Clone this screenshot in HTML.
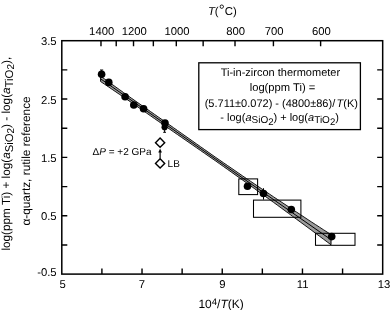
<!DOCTYPE html>
<html lang="en"><head><meta charset="utf-8"><title>Ti-in-zircon thermometer</title>
<style>html,body{margin:0;padding:0;background:#fff;}svg{display:block;}text{font-family:"Liberation Sans", Arial, Helvetica, sans-serif;fill:#000;text-rendering:geometricPrecision;}</style></head><body>
<svg width="392" height="310" viewBox="0 0 392 310">
<rect x="0" y="0" width="392" height="310" fill="#fff"/>
<polygon points="100.6,76.13 104.44,78.88 108.28,81.64 112.12,84.39 115.96,87.14 119.8,89.89 123.64,92.64 127.48,95.39 131.32,98.12 135.16,100.81 139,103.5 142.84,106.19 146.68,108.87 150.52,111.56 154.36,114.25 158.2,116.93 162.04,119.62 165.88,122.31 169.72,125.01 173.56,127.72 177.4,130.42 181.24,133.13 185.08,135.83 188.92,138.54 192.76,141.24 196.6,143.95 200.44,146.65 204.28,149.35 208.12,152.06 211.96,154.76 215.8,157.46 219.64,160.1 223.48,162.74 227.32,165.38 231.16,168.03 235,170.67 238.84,173.31 242.68,175.96 246.52,178.58 250.36,181.17 254.2,183.76 258.04,186.35 261.88,188.95 265.72,191.54 269.56,194.13 273.4,196.72 277.24,199.28 281.08,201.83 284.92,204.37 288.76,206.91 292.6,209.46 296.44,212 300.28,214.54 304.12,217.08 307.96,219.63 311.8,222.16 315.64,224.65 319.48,227.14 323.32,229.63 327.16,232.12 331,234.61 331,244.81 327.16,241.93 323.32,239.06 319.48,236.18 315.64,233.31 311.8,230.44 307.96,227.61 304.12,224.79 300.28,221.97 296.44,219.15 292.6,216.33 288.76,213.51 284.92,210.69 281.08,207.87 277.24,205.05 273.4,202.25 269.56,199.48 265.72,196.7 261.88,193.93 258.04,191.16 254.2,188.39 250.36,185.62 246.52,182.85 242.68,180.11 238.84,177.39 235,174.67 231.16,171.95 227.32,169.23 223.48,166.51 219.64,163.79 215.8,161.07 211.96,158.4 208.12,155.74 204.28,153.08 200.44,150.43 196.6,147.77 192.76,145.11 188.92,142.45 185.08,139.79 181.24,137.13 177.4,134.47 173.56,131.82 169.72,129.16 165.88,126.5 162.04,123.83 158.2,121.15 154.36,118.48 150.52,115.8 146.68,113.12 142.84,110.45 139,107.77 135.16,105.1 131.32,102.42 127.48,99.79 123.64,97.18 119.8,94.57 115.96,91.95 112.12,89.34 108.28,86.73 104.44,84.12 100.6,81.51" fill="#9c9c9c" stroke="none"/>
<polyline points="100.6,76.13 104.44,78.88 108.28,81.64 112.12,84.39 115.96,87.14 119.8,89.89 123.64,92.64 127.48,95.39 131.32,98.12 135.16,100.81 139,103.5 142.84,106.19 146.68,108.87 150.52,111.56 154.36,114.25 158.2,116.93 162.04,119.62 165.88,122.31 169.72,125.01 173.56,127.72 177.4,130.42 181.24,133.13 185.08,135.83 188.92,138.54 192.76,141.24 196.6,143.95 200.44,146.65 204.28,149.35 208.12,152.06 211.96,154.76 215.8,157.46 219.64,160.1 223.48,162.74 227.32,165.38 231.16,168.03 235,170.67 238.84,173.31 242.68,175.96 246.52,178.58 250.36,181.17 254.2,183.76 258.04,186.35 261.88,188.95 265.72,191.54 269.56,194.13 273.4,196.72 277.24,199.28 281.08,201.83 284.92,204.37 288.76,206.91 292.6,209.46 296.44,212 300.28,214.54 304.12,217.08 307.96,219.63 311.8,222.16 315.64,224.65 319.48,227.14 323.32,229.63 327.16,232.12 331,234.61" fill="none" stroke="#000" stroke-width="0.9"/>
<polyline points="100.6,81.51 104.44,84.12 108.28,86.73 112.12,89.34 115.96,91.95 119.8,94.57 123.64,97.18 127.48,99.79 131.32,102.42 135.16,105.1 139,107.77 142.84,110.45 146.68,113.12 150.52,115.8 154.36,118.48 158.2,121.15 162.04,123.83 165.88,126.5 169.72,129.16 173.56,131.82 177.4,134.47 181.24,137.13 185.08,139.79 188.92,142.45 192.76,145.11 196.6,147.77 200.44,150.43 204.28,153.08 208.12,155.74 211.96,158.4 215.8,161.07 219.64,163.79 223.48,166.51 227.32,169.23 231.16,171.95 235,174.67 238.84,177.39 242.68,180.11 246.52,182.85 250.36,185.62 254.2,188.39 258.04,191.16 261.88,193.93 265.72,196.7 269.56,199.48 273.4,202.25 277.24,205.05 281.08,207.87 284.92,210.69 288.76,213.51 292.6,216.33 296.44,219.15 300.28,221.97 304.12,224.79 307.96,227.61 311.8,230.44 315.64,233.31 319.48,236.18 323.32,239.06 327.16,241.93 331,244.81" fill="none" stroke="#000" stroke-width="0.9"/>
<line x1="100.6" y1="78.82" x2="331" y2="239.71" stroke="#000" stroke-width="1"/>
<line x1="100.6" y1="76.13" x2="100.6" y2="81.51" stroke="#000" stroke-width="1"/>
<line x1="331" y1="234.61" x2="331" y2="244.81" stroke="#000" stroke-width="1"/>
<rect x="238.8" y="178.9" width="18.8" height="15.7" fill="none" stroke="#000" stroke-width="1.05"/>
<rect x="253.5" y="200.1" width="47.4" height="17.2" fill="none" stroke="#000" stroke-width="1.05"/>
<rect x="315.5" y="233.3" width="39.5" height="12" fill="none" stroke="#000" stroke-width="1.05"/>
<path d="M101.6 70 V78 M100 70 H103.2 M263.5 188.2 V199.6 M164.6 122 V132.3 M163.2 132.3 H166" stroke="#000" stroke-width="1" fill="none"/>
<circle cx="101.6" cy="74.2" r="3.8" fill="#000"/>
<circle cx="108.8" cy="82.4" r="3.8" fill="#000"/>
<circle cx="125.1" cy="96.7" r="3.8" fill="#000"/>
<circle cx="133.8" cy="105" r="3.8" fill="#000"/>
<circle cx="143.6" cy="108.7" r="3.8" fill="#000"/>
<circle cx="165" cy="123" r="3.8" fill="#000"/>
<circle cx="164.6" cy="127.2" r="3.1" fill="#000"/>
<circle cx="247.5" cy="186.3" r="3.8" fill="#000"/>
<circle cx="263.5" cy="193.5" r="3.8" fill="#000"/>
<circle cx="291.3" cy="209.5" r="3.8" fill="#000"/>
<circle cx="331.7" cy="236.6" r="3.8" fill="#000"/>
<polygon points="160.1,138.1 164.7,142.7 160.1,147.3 155.5,142.7" fill="#fff" stroke="#000" stroke-width="1.4"/>
<polygon points="160.1,158.8 164.7,163.4 160.1,168 155.5,163.4" fill="#fff" stroke="#000" stroke-width="1.4"/>
<path d="M160.1 158.5 V151" stroke="#000" stroke-width="1.2" fill="none"/>
<polygon points="160.1,148.6 158.3,152.6 161.9,152.6" fill="#000"/>
<rect x="61.8" y="40.7" width="320.88" height="233.4" fill="none" stroke="#000" stroke-width="1.5"/>
<path d="M101.91 274.1 v-5.5 M142.02 274.1 v-5.5 M182.13 274.1 v-5.5 M222.24 274.1 v-5.5 M262.35 274.1 v-5.5 M302.46 274.1 v-5.5 M342.57 274.1 v-5.5 M100.98 40.7 v5.5 M116.22 40.7 v5.5 M133.52 40.7 v5.5 M153.35 40.7 v5.5 M176.3 40.7 v5.5 M203.15 40.7 v5.5 M235.01 40.7 v5.5 M273.42 40.7 v5.5 M320.62 40.7 v5.5 M61.8 244.93 h5.5 M382.68 244.93 h-5.5 M61.8 215.75 h5.5 M382.68 215.75 h-5.5 M61.8 186.58 h5.5 M382.68 186.58 h-5.5 M61.8 157.4 h5.5 M382.68 157.4 h-5.5 M61.8 128.23 h5.5 M382.68 128.23 h-5.5 M61.8 99.05 h5.5 M382.68 99.05 h-5.5 M61.8 69.88 h5.5 M382.68 69.88 h-5.5" stroke="#000" stroke-width="1.4" fill="none"/>
<text x="56.6" y="45.3" font-size="11.3" text-anchor="end">3.5</text>
<text x="56.6" y="103.65" font-size="11.3" text-anchor="end">2.5</text>
<text x="56.6" y="162" font-size="11.3" text-anchor="end">1.5</text>
<text x="56.6" y="220.35" font-size="11.3" text-anchor="end">0.5</text>
<text x="56.6" y="275.6" font-size="11.3" text-anchor="end">-0.5</text>
<text x="62.6" y="288.3" font-size="11.3" text-anchor="middle">5</text>
<text x="141.82" y="288.3" font-size="11.3" text-anchor="middle">7</text>
<text x="222.34" y="288.3" font-size="11.3" text-anchor="middle">9</text>
<text x="302.56" y="288.3" font-size="11.3" text-anchor="middle">11</text>
<text x="383.98" y="288.3" font-size="11.3" text-anchor="middle">13</text>
<text x="101.68" y="34.5" font-size="11.3" text-anchor="middle">1400</text>
<text x="134.22" y="34.5" font-size="11.3" text-anchor="middle">1200</text>
<text x="177" y="34.5" font-size="11.3" text-anchor="middle">1000</text>
<text x="235.71" y="34.5" font-size="11.3" text-anchor="middle">800</text>
<text x="274.12" y="34.5" font-size="11.3" text-anchor="middle">700</text>
<text x="321.32" y="34.5" font-size="11.3" text-anchor="middle">600</text>
<text x="207.9" y="15.2" font-size="11.4"><tspan font-style="italic">T</tspan>(<tspan font-size="15">°</tspan>C)</text>
<text x="198.4" y="308" font-size="12">10<tspan font-size="9.5" dy="-3">4</tspan><tspan dy="3">/</tspan><tspan font-style="italic">T</tspan>(K)</text>
<text transform="translate(9.9,250.6) rotate(-90)" font-size="11.75">log(ppm Ti) + log(<tspan font-style="italic">a</tspan><tspan font-size="11.3" dy="2.8">SiO</tspan><tspan font-size="10" dy="1.6">2</tspan><tspan dy="-4.4">) - log(</tspan><tspan font-style="italic">a</tspan><tspan font-size="11.3" dy="2.8">TiO</tspan><tspan font-size="10" dy="1.6">2</tspan><tspan dy="-4.4">),</tspan></text>
<text transform="translate(30.2,225.6) rotate(-90)" font-size="11.85">α-quartz, rutile reference</text>
<text x="92.6" y="154.8" font-size="10">Δ<tspan font-style="italic">P</tspan> = +2 GPa</text>
<text x="167.6" y="166.8" font-size="10">LB</text>
<rect x="198.8" y="62.8" width="161.6" height="66.8" fill="#fff" stroke="#000" stroke-width="1.3"/>
<text x="280.4" y="75.7" font-size="11" text-anchor="middle">Ti-in-zircon thermometer</text>
<text x="282.5" y="91.3" font-size="11.2" text-anchor="middle">log(ppm Ti) =</text>
<text x="281.3" y="107.3" font-size="11" text-anchor="middle">(5.711±0.072) - (4800±86)/<tspan font-style="italic" dx="1.3">T</tspan>(K)</text>
<text x="279.6" y="120.6" font-size="11" text-anchor="middle">- log(<tspan font-style="italic">a</tspan><tspan font-size="10" dy="2.4">SiO</tspan><tspan font-size="9.5" dy="1.8">2</tspan><tspan dy="-4.2">) + log(</tspan><tspan font-style="italic">a</tspan><tspan font-size="10" dy="2.4">TiO</tspan><tspan font-size="9.5" dy="1.8">2</tspan><tspan dy="-4.2">)</tspan></text>
</svg></body></html>
